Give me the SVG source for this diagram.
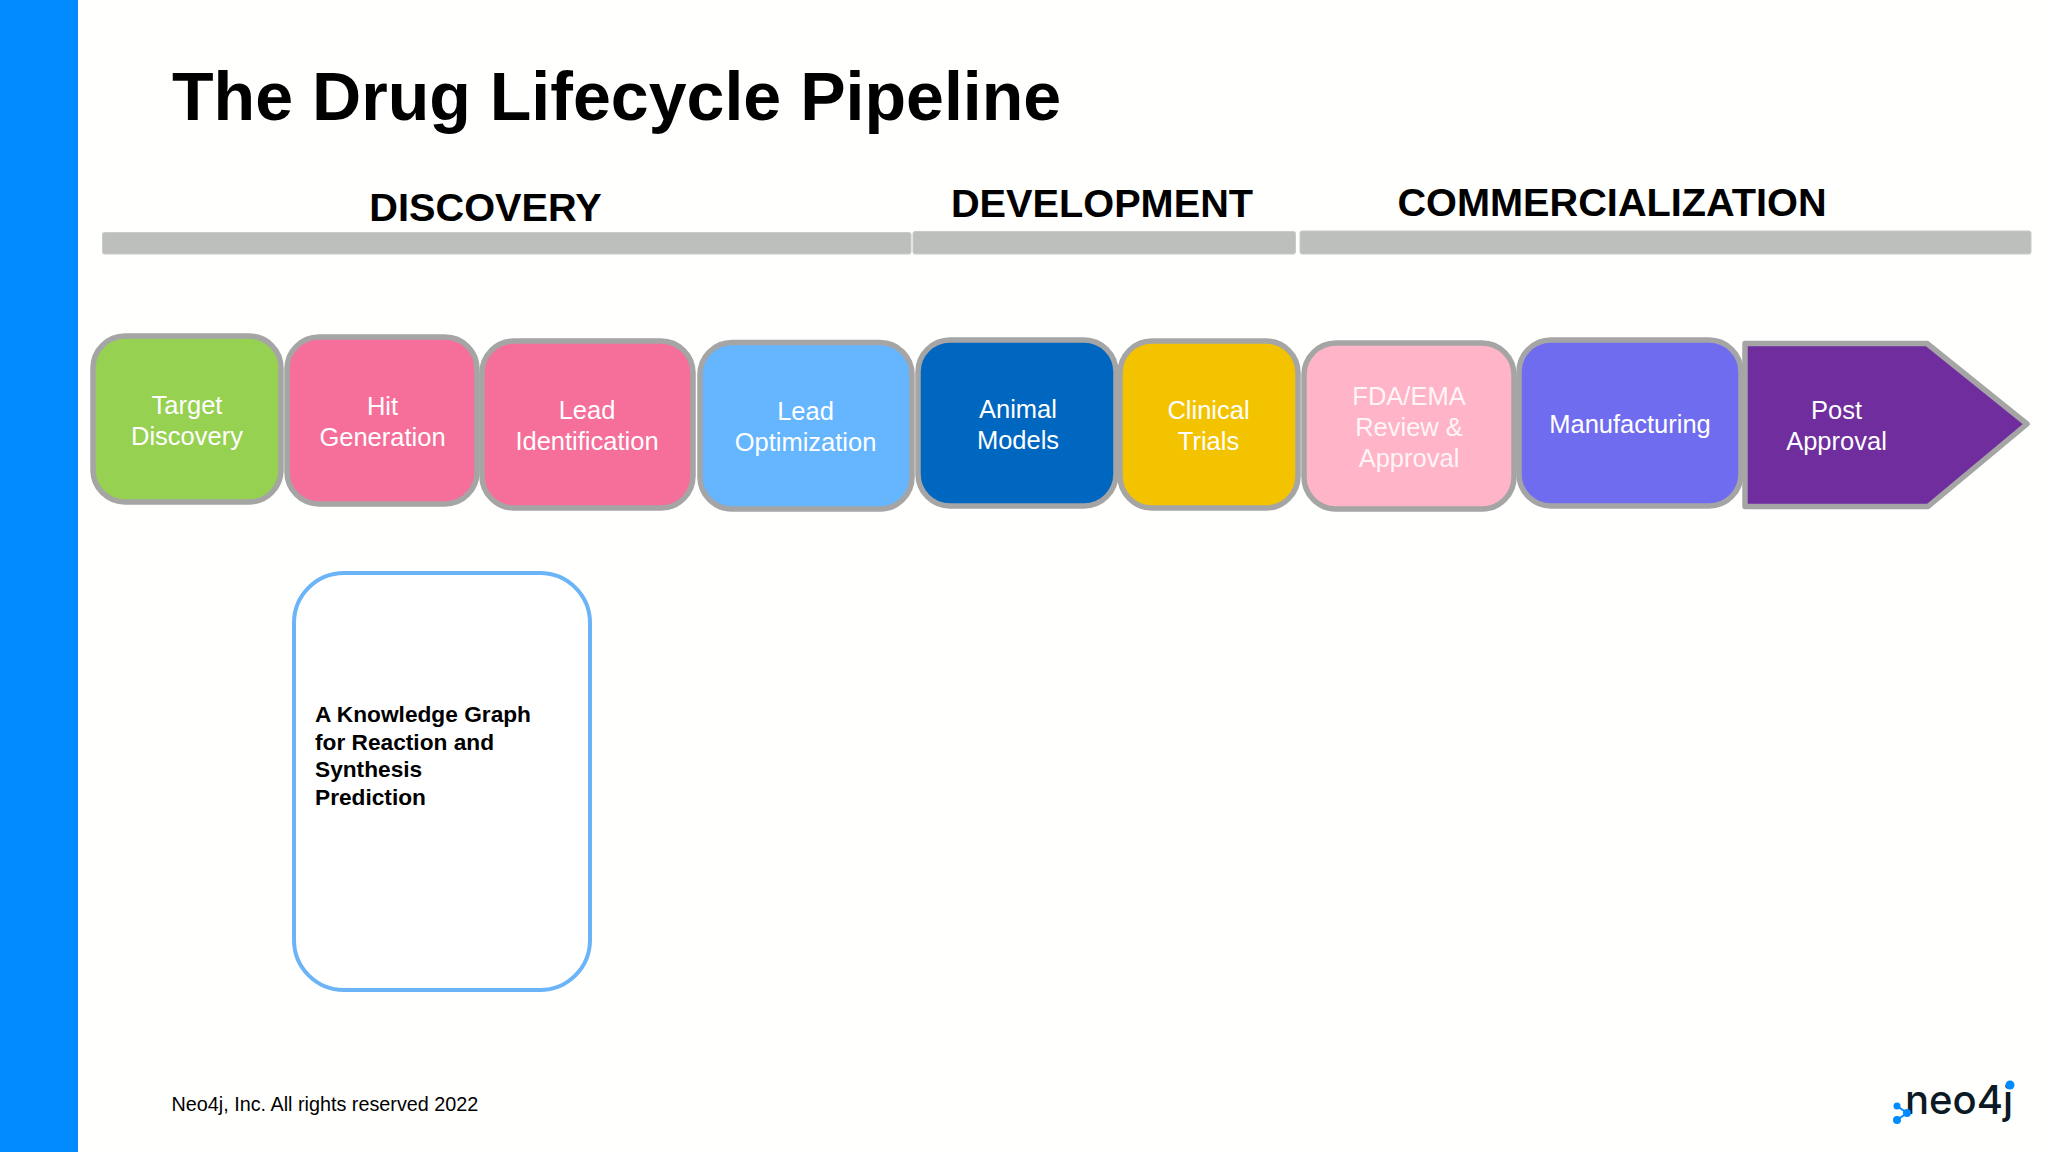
<svg xmlns="http://www.w3.org/2000/svg" width="2048" height="1152" viewBox="0 0 2048 1152">
<style>
text{font-family:"Liberation Sans",Arial,sans-serif}
.bar{fill:#bdbfbc;stroke:#c9cbc8;stroke-width:1}
.hd{font-size:39.700px;font-weight:700;fill:#000;text-anchor:middle}
.st{stroke:#a5a5a6;stroke-width:5.500;stroke-linejoin:round}
.lb{font-size:25.500px;fill:#fff;text-anchor:middle}
.ct{font-size:22.700px;font-weight:700;fill:#000}
</style>
<rect width="2048" height="1152" fill="#fffffe"/>
<rect width="78" height="1152" fill="#018bff"/>
<text x="172" y="119.500" font-size="68.100" font-weight="700" fill="#000">The Drug Lifecycle Pipeline</text>
<g id="phase-discovery"><rect class="bar" x="102.500" y="232.500" width="808.500" height="21.500" rx="2"/><text class="hd" x="485.500" y="221">DISCOVERY</text></g>
<g id="phase-development"><rect class="bar" x="913" y="231.500" width="382.500" height="22.500" rx="2"/><text class="hd" x="1102" y="217">DEVELOPMENT</text></g>
<g id="phase-commercialization"><rect class="bar" x="1300" y="231" width="731" height="23" rx="2"/><text class="hd" x="1612" y="216">COMMERCIALIZATION</text></g>
<g id="target-discovery"><rect class="st" x="93" y="336" width="188" height="166" rx="32" fill="#96d152"/><text class="lb" x="187" y="414">Target</text><text class="lb" x="187" y="445">Discovery</text></g>
<g id="hit-generation"><rect class="st" x="287" y="337" width="190" height="167" rx="32" fill="#f66e9a"/><text class="lb" x="382.500" y="415">Hit</text><text class="lb" x="382.500" y="446">Generation</text></g>
<g id="lead-identification"><rect class="st" x="482" y="341" width="211" height="167" rx="32" fill="#f66e9a"/><text class="lb" x="587" y="419">Lead</text><text class="lb" x="587" y="450">Identification</text></g>
<g id="lead-optimization"><rect class="st" x="700" y="342.500" width="212" height="166.500" rx="32" fill="#65b5ff"/><text class="lb" x="805.500" y="420">Lead</text><text class="lb" x="805.500" y="451">Optimization</text></g>
<g id="animal-models"><rect class="st" x="918" y="340" width="198" height="166" rx="32" fill="#0067c0"/><text class="lb" x="1018" y="418">Animal</text><text class="lb" x="1018" y="449">Models</text></g>
<g id="clinical-trials"><rect class="st" x="1120" y="341" width="178" height="167" rx="32" fill="#f4c300"/><text class="lb" x="1208.500" y="419">Clinical</text><text class="lb" x="1208.500" y="450">Trials</text></g>
<g id="fda-ema"><rect class="st" x="1304" y="343" width="210" height="166" rx="32" fill="#ffb4c7"/><text class="lb" x="1409" y="404.500" fill-opacity=".9">FDA/EMA</text><text class="lb" x="1409" y="436" fill-opacity=".9">Review &amp;</text><text class="lb" x="1409" y="467" fill-opacity=".9">Approval</text></g>
<g id="manufacturing"><rect class="st" x="1519" y="340" width="222" height="166" rx="32" fill="#6f6cef"/><text class="lb" x="1630" y="433">Manufacturing</text></g>
<g id="post-approval"><path class="st" d="M1745 343.500L1927 343.500L2027 424L1928 506.500L1745 506.500Z" fill="#6f2d9e"/><text class="lb" x="1836.500" y="419">Post</text><text class="lb" x="1836.500" y="450">Approval</text></g>
<g id="knowledge-graph-card"><rect x="294" y="573" width="296" height="417" rx="50" fill="#fff" stroke="#6cb4f8" stroke-width="4"/><text class="ct" x="315" y="722">A Knowledge Graph</text><text class="ct" x="315" y="750">for Reaction and</text><text class="ct" x="315" y="777">Synthesis</text><text class="ct" x="315" y="805">Prediction</text></g>
<text x="171.500" y="1111" font-size="19.800" fill="#000">Neo4j, Inc. All rights reserved 2022</text>
<g id="neo4j-logo"><text x="1905" y="1114" font-size="40" font-weight="500" fill="#0b1a24" style="font-family:Inter,'Liberation Sans',sans-serif">neo4j</text><path d="M1897 1106L1907 1113L1897 1120" fill="none" stroke="#018bff" stroke-width="2"/><circle cx="1897" cy="1106" r="3.500" fill="#018bff"/><circle cx="1897" cy="1120" r="4" fill="#018bff"/><circle cx="1907" cy="1113" r="4" fill="#018bff"/><circle cx="2010" cy="1085" r="4.500" fill="#018bff"/></g>
</svg>
